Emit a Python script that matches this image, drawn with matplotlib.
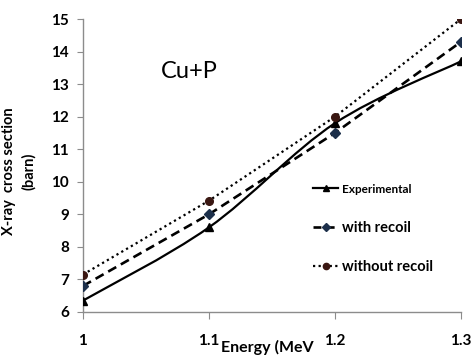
import matplotlib
matplotlib.use("Agg")
import matplotlib.pyplot as plt
import numpy as np
from matplotlib.path import Path
from matplotlib.patches import PathPatch
from matplotlib.lines import Line2D

plt.rcParams['font.family'] = ['Lato', 'DejaVu Sans']

# 数据
energy = [1.0, 1.1, 1.2, 1.3]
experimental = [6.35, 8.6, 11.8, 13.7]
with_recoil = [6.8, 9.0, 11.5, 14.3]
without_recoil = [7.15, 9.42, 12.0, 15.0]
x_ticks = [1, 1.1, 1.2, 1.3]
x_tick_labels = ['1', '1.1', '1.2', '1.3']
y_ticks = [6, 7, 8, 9, 10, 11, 12, 13, 14, 15]


def smooth_path(xs, ys):
    # Excel 风格的平滑曲线 (贝塞尔)
    pts = np.column_stack([xs, ys])
    n = len(pts)
    verts = [pts[0]]
    codes = [Path.MOVETO]
    for i in range(n - 1):
        p0 = pts[max(i - 1, 0)]
        p1 = pts[i]
        p2 = pts[i + 1]
        p3 = pts[min(i + 2, n - 1)]
        c1 = p1 + (p2 - p0) / 6
        c2 = p2 - (p3 - p1) / 6
        verts += [c1, c2, p2]
        codes += [Path.CURVE4] * 3
    return Path(verts, codes)


fig = plt.figure(figsize=(4.74, 3.56), dpi=100)
ax = fig.add_axes([0.175, 0.1236, 0.7976, 0.823])

patch = PathPatch(smooth_path(energy, experimental), facecolor='none',
                  edgecolor='black', lw=1.6, zorder=3)
ax.add_patch(patch)
ax.plot(energy, experimental, ls='none', marker='^', ms=6, color='black', zorder=4)

ax.plot(energy, with_recoil, ls=(0, (3.5, 2)), lw=1.9, color='black', zorder=3)
ax.plot(energy, with_recoil, ls='none', marker='D', ms=5, color='#1c2f4a', zorder=4)

ax.plot(energy, without_recoil, ls=(0, (1, 1.5)), lw=1.6, color='black', zorder=3)
ax.plot(energy, without_recoil, ls='none', marker='o', ms=5.5, color='#3a1712', zorder=4)

ax.set_xlim(1, 1.3)
ax.set_ylim(6, 15)
ax.set_xticks(x_ticks)
ax.set_xticklabels(x_tick_labels)
ax.set_yticks(y_ticks)

for s in ['top', 'right']:
    ax.spines[s].set_visible(False)
for s in ['left', 'bottom']:
    ax.spines[s].set_color('#8c8c8c')
    ax.spines[s].set_linewidth(1)

ax.tick_params(axis='x', direction='out', length=5, color='#8c8c8c', pad=11, labelsize=11)
ax.tick_params(axis='y', direction='out', length=4, color='#8c8c8c', pad=6, labelsize=11)
for lab in ax.get_xticklabels() + ax.get_yticklabels():
    lab.set_fontweight('bold')

ax.text(0.205, 0.8, 'Cu+P', transform=ax.transAxes, fontsize=17)

fig.text(0.466, 0.012, 'Energy (MeV', fontsize=11.5, fontweight='bold')
fig.text(0.04, 0.52, 'X-ray  cross section\n(barn)', rotation=90, fontsize=10.5,
         fontweight='bold', ha='center', va='center', multialignment='center',
         linespacing=1.5)

handles = [
    Line2D([], [], color='black', lw=1.6, marker='^', ms=5),
    Line2D([], [], color='black', lw=1.9, ls=(0, (3, 2)), marker='D', ms=4,
           markerfacecolor='#1c2f4a', markeredgecolor='#1c2f4a'),
    Line2D([], [], color='black', lw=1.6, ls=(0, (1, 1.5)), marker='o', ms=4.5,
           markerfacecolor='#3a1712', markeredgecolor='#3a1712'),
]
leg = ax.legend(handles, ['Experimental', 'with recoil', 'without recoil'],
                loc='upper left', bbox_to_anchor=(0.575, 0.485), frameon=False,
                handlelength=1.7, handletextpad=0.25, labelspacing=1.75,
                prop={'weight': 'bold', 'size': 10.5})
leg.get_texts()[0].set_fontsize(8.5)

fig.savefig('out.png', dpi=100)
